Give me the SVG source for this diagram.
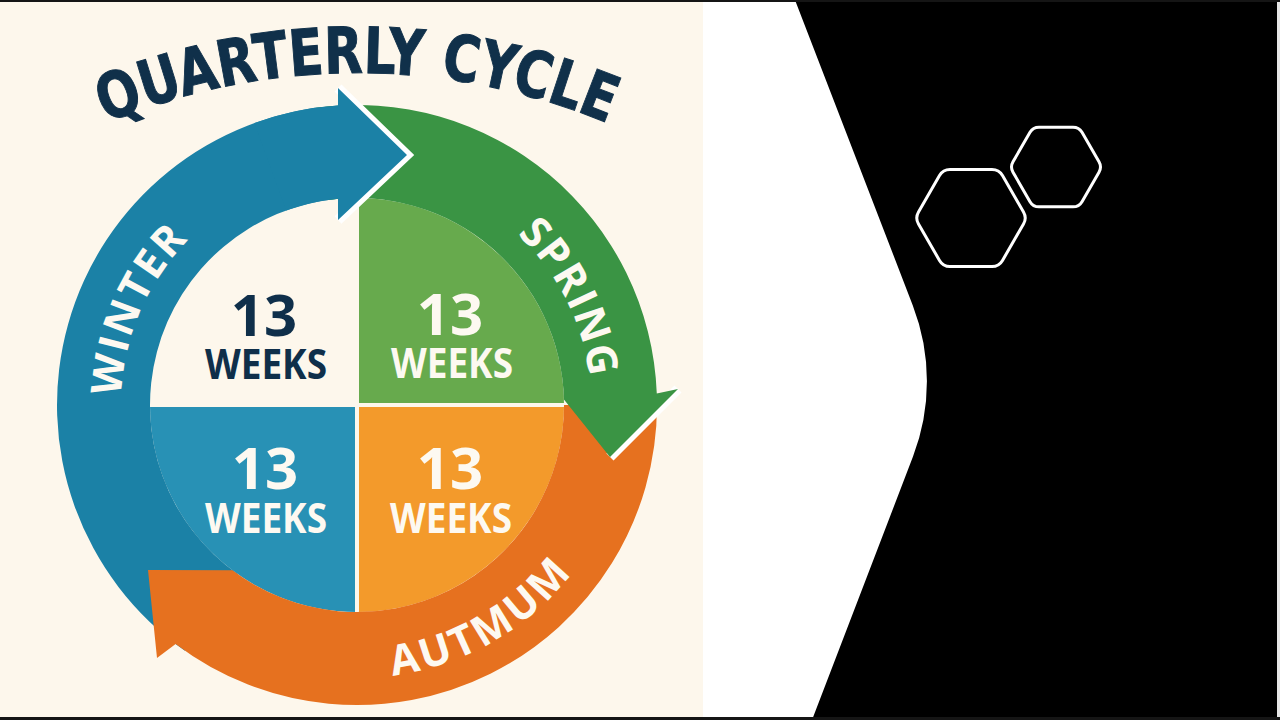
<svg xmlns="http://www.w3.org/2000/svg" width="1280" height="720" viewBox="0 0 1280 720">
  <defs>
    <style>
      .lbl { font-family: 'Open Sans', 'DejaVu Sans', sans-serif; font-weight: 700; }
      .band-txt { font-size: 42px; fill: #fdf9f1; }
      .num { font-size: 58px; }
      .wk { font-size: 42px; }
      .dark { fill: #0f2f4a; }
      .light { fill: #fdf9f1; }
      .hex { fill: none; stroke: #ffffff; stroke-width: 3; }
      .gap { fill: none; stroke: #ffffff; stroke-width: 10; stroke-linejoin: miter; }
    </style>
    <path id="titleArc" d="M -60.8 225.1 A 650 650 0 0 1 774.8 225.1"/>
    <path id="winterArc" d="M 167.3 545.4 A 236 236 0 0 1 330.3 170.5"/>
    <path id="springArc" d="M 370.5 171.4 A 234 234 0 0 1 552.6 533.5"/>
    <path id="autumnArc" d="M 220.5 641.4 A 273 273 0 0 0 630 405"/>
  </defs>

  <!-- backgrounds -->
  <rect x="0" y="0" width="1280" height="720" fill="#ffffff"/>
  <rect x="0" y="0" width="703" height="720" fill="#fdf7ec"/>

  <!-- title -->
  <g id="title">
    <text font-family="'DejaVu Sans Condensed', 'DejaVu Sans', sans-serif" font-weight="bold" font-size="64" fill="#10304a" stroke="#10304a" stroke-width="1">
      <textPath href="#titleArc" startOffset="50%" text-anchor="middle" textLength="515" lengthAdjust="spacingAndGlyphs">QUARTERLY CYCLE</textPath>
    </text>
  </g>

  <!-- quadrants -->
  <g id="quadrants">
    <path d="M 357 405 L 357 198 A 207 207 0 0 1 564 405 Z" fill="#67aa4d"/>
    <path d="M 357 405 L 564 405 A 207 207 0 0 1 357 612 Z" fill="#f39a2b"/>
    <path d="M 357 405 L 357 612 A 207 207 0 0 1 150 405 Z" fill="#2891b5"/>
    <line x1="357" y1="196" x2="357" y2="614" stroke="#fdf7ec" stroke-width="4"/>
    <line x1="148" y1="405" x2="566" y2="405" stroke="#fdf7ec" stroke-width="4"/>
  </g>

  <!-- cycle arrows (connectors) -->
  <g id="connectors">
    <path id="winter-band" d="M 184.93 650.74 A 300 300 0 0 1 338 105.6 L 338 88 L 407 155 L 338 220 L 338 198.87 A 207 207 0 0 0 238.27 574.56 Z" fill="#1b81a6"/>
    <path id="autumn-band" d="M 657 405 A 300 300 0 0 1 175.62 643.96 L 157 658 L 148 570 L 232.42 570.32 A 207 207 0 0 0 564 405 Z" fill="#e6711f"/>
    <polyline class="gap" points="678,389 610,457"/>
    <path id="spring-band" d="M 315.25 107.92 A 300 300 0 0 1 656.78 393.48 L 678 389 L 610 457 L 563.93 399.58 A 207 207 0 0 0 328.19 200.01 Z" fill="#3a9444"/>
    <polyline class="gap" points="338,88 407,155 338,220"/>
    <path d="M 254.4 123.1 A 300 300 0 0 1 338 105.6 L 338 88 L 407 155 L 338 220 L 338 198.87 A 207 207 0 0 0 286.2 210.5 Z" fill="#1b81a6"/>
  </g>

  <!-- band labels -->
  <g id="winter">
    <text class="lbl band-txt" letter-spacing="2"><textPath href="#winterArc" startOffset="50%" text-anchor="middle">WINTER</textPath></text>
  </g>
  <g id="spring">
    <text class="lbl band-txt" letter-spacing="1.5"><textPath href="#springArc" startOffset="50%" text-anchor="middle">SPRING</textPath></text>
  </g>
  <g id="autumn">
    <text class="lbl band-txt" letter-spacing="3"><textPath href="#autumnArc" startOffset="50%" text-anchor="middle">AUTMUM</textPath></text>
  </g>

  <!-- quadrant labels -->
  <g id="q-top-left">
    <text class="lbl dark" text-anchor="middle"><tspan class="num" x="264" y="336">13</tspan><tspan class="wk" x="266" y="379" textLength="122" lengthAdjust="spacingAndGlyphs">WEEKS</tspan></text>
  </g>
  <g id="q-top-right">
    <text class="lbl light" text-anchor="middle"><tspan class="num" x="450" y="335">13</tspan><tspan class="wk" x="452" y="378" textLength="122" lengthAdjust="spacingAndGlyphs">WEEKS</tspan></text>
  </g>
  <g id="q-bottom-left">
    <text class="lbl light" text-anchor="middle"><tspan class="num" x="265" y="489">13</tspan><tspan class="wk" x="266" y="533" textLength="122" lengthAdjust="spacingAndGlyphs">WEEKS</tspan></text>
  </g>
  <g id="q-bottom-right">
    <text class="lbl light" text-anchor="middle"><tspan class="num" x="450" y="489">13</tspan><tspan class="wk" x="451" y="533" textLength="122" lengthAdjust="spacingAndGlyphs">WEEKS</tspan></text>
  </g>

  <!-- right panel -->
  <g id="right-panel">
    <path d="M 795 0 L 912.8 305.4 A 211 211 0 0 1 913 456.6 L 812 720 L 1280 720 L 1280 0 Z" fill="#000000"/>
    <path id="hex-large" class="hex" d="M 1023.5 211.94 Q 1027 218 1023.5 224.06 L 1002.5 260.44 Q 999 266.5 992 266.5 L 950 266.5 Q 943 266.5 939.5 260.44 L 918.5 224.06 Q 915 218 918.5 211.94 L 939.5 175.56 Q 943 169.5 950 169.5 L 992 169.5 Q 999 169.5 1002.5 175.56 Z"/>
    <path id="hex-small" class="hex" d="M 1099 161.8 Q 1102 167 1099 172.2 L 1082 201.64 Q 1079 206.84 1073 206.84 L 1039 206.84 Q 1033 206.84 1030 201.64 L 1013 172.2 Q 1010 167 1013 161.8 L 1030 132.36 Q 1033 127.16 1039 127.16 L 1073 127.16 Q 1079 127.16 1082 132.36 Z"/>
  </g>

  <!-- frame edges -->
  <rect x="0" y="0" width="1280" height="2" fill="#151515"/>
  <rect x="0" y="717" width="1280" height="3" fill="#151515"/>
  <rect x="1277" y="2" width="3" height="715" fill="#e6e6e6"/>
</svg>
